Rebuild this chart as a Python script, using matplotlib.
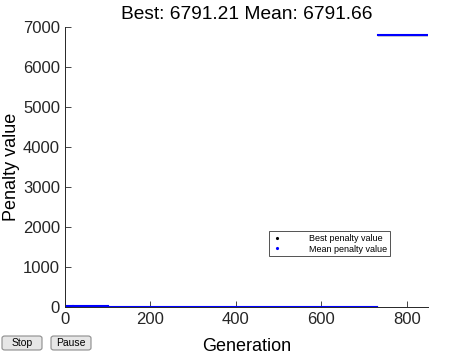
import matplotlib.pyplot as plt
from matplotlib.patches import FancyBboxPatch

plt.rcParams['font.family'] = ['Liberation Sans', 'DejaVu Sans']

# piecewise-constant history of the GA run (generation ranges and values)
seg_start = [1, 20, 100, 732]
seg_end = [20, 100, 731, 850]
best_vals = [20, 8, 2, 6791.21]
mean_vals = [35, 15, 3, 6791.66]

x_ticks = [0, 200, 400, 600, 800]
y_ticks = [0, 1000, 2000, 3000, 4000, 5000, 6000, 7000]

fig = plt.figure(figsize=(4.74, 3.55), dpi=100)
ax = fig.add_axes([0.137, 0.135, 0.766, 0.789])

for s, e, b, m in zip(seg_start, seg_end, best_vals, mean_vals):
    ax.plot([s, e], [b, b], color='black', lw=1.0)
    ax.plot([s, e], [m, m], color='blue', lw=1.5)

# legend proxies (MATLAB draws dots)
ax.plot([], [], '.', color='black', ms=2.5, label='Best penalty value')
ax.plot([], [], '.', color='blue', ms=2.5, label='Mean penalty value')

ax.set_xlim(0, 850)
ax.set_ylim(0, 7000)
ax.set_xticks(x_ticks)
ax.set_yticks(y_ticks)
for side in ['top', 'right']:
    ax.spines[side].set_visible(False)
for side in ['left', 'bottom']:
    ax.spines[side].set_color('#262626')
    ax.spines[side].set_linewidth(0.7)
ax.tick_params(direction='in', length=4, width=0.6, colors='#262626',
               labelsize=12, labelcolor='#262626')

ax.set_title('Best: 6791.21 Mean: 6791.66', fontsize=13.8, pad=6)
ax.set_xlabel('Generation', fontsize=13, labelpad=8)
ax.set_ylabel('Penalty value', fontsize=13, va='center')
ax.yaxis.set_label_coords(-0.148, 0.5)

leg = ax.legend(loc='lower left', bbox_to_anchor=(0.55, 0.165), fontsize=6.5,
                frameon=True, fancybox=False, edgecolor='#262626',
                handlelength=1.2, handletextpad=2.9, borderpad=0.3,
                labelspacing=0.2, markerscale=1.0)
leg.get_frame().set_linewidth(0.7)

# Stop / Pause buttons of the GA window
for label, x0 in [('Stop', 2), ('Pause', 51)]:
    box = FancyBboxPatch((x0 / 474, 5 / 355), 40 / 474, 14 / 355,
                         boxstyle='round,pad=0,rounding_size=0.006',
                         transform=fig.transFigure, facecolor='#e6e6e6',
                         edgecolor='#8c8c8c', linewidth=0.8)
    fig.patches.append(box)
    fig.text((x0 + 20) / 474, 12 / 355, label, ha='center', va='center',
             fontsize=7.5)

fig.savefig('out.png')
